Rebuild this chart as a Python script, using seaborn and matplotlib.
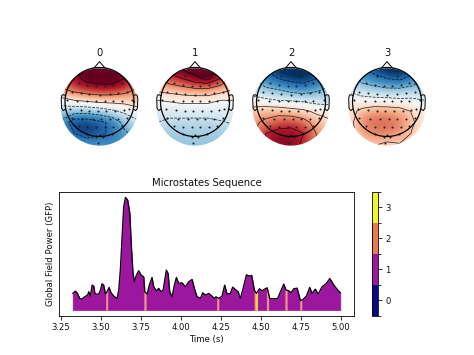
import numpy as np
import matplotlib
matplotlib.use("Agg")
import matplotlib.pyplot as plt
from matplotlib.colors import ListedColormap, BoundaryNorm
from matplotlib.cm import ScalarMappable
from matplotlib.patches import Circle
import seaborn as sns

time_s = [3.325,3.342,3.352,3.369,3.383,3.400,3.418,3.425,3.435,3.446,3.456,3.464,3.487,3.498,3.508,3.518,3.529,3.539,3.552,3.564,3.581,3.602,3.612,3.622,3.633,3.643,3.654,3.668,3.681,3.691,3.701,3.710,3.722,3.737,3.751,3.768,3.774,3.789,3.803,3.820,3.830,3.847,3.862,3.876,3.889,3.899,3.909,3.920,3.930,3.945,3.959,3.972,3.986,4.007,4.028,4.049,4.070,4.084,4.101,4.122,4.136,4.153,4.174,4.194,4.209,4.219,4.236,4.257,4.273,4.288,4.309,4.323,4.340,4.357,4.371,4.388,4.409,4.427,4.442,4.458,4.471,4.490,4.506,4.523,4.538,4.554,4.579,4.604,4.621,4.642,4.656,4.673,4.687,4.704,4.725,4.746,4.762,4.783,4.804,4.818,4.839,4.856,4.881,4.908,4.929,4.954,4.979,4.995]
gfp = [.50,.57,.52,.35,.33,.40,.45,.55,.42,.75,.72,.48,.48,.60,.79,.75,.48,.55,.68,.52,.42,.35,.60,1.20,2.20,3.10,3.38,3.30,2.90,1.90,1.10,.85,1.05,1.18,1.05,1.00,.55,.48,.75,.98,.70,.58,.65,.55,.60,.90,1.20,1.10,.55,.40,.75,.98,.80,.82,.70,.85,.92,.65,.40,.35,.52,.45,.50,.42,.35,.40,.35,.42,.75,.48,.50,.69,.62,.55,.35,.65,1.06,1.02,1.04,.60,.50,.64,.58,.63,.67,.35,.34,.35,.55,.78,.60,.58,.52,.64,.66,.28,.32,.42,.68,.50,.63,.48,.70,.80,.95,.75,.60,.52]
stripe_start = [3.532,3.771,4.225,4.459,4.468,4.535,4.651,4.743]
stripe_end = [3.542,3.781,4.235,4.468,4.477,4.546,4.661,4.753]
stripe_state = [2,2,2,2,3,2,2,2]

state_labels = [0,1,2,3]
cluster_names = ["0","1","2","3"]
topo_x = [-1.1,-.73,-.37,0,.37,.73,1.1]
topo_y = [1.0,.68,.36,.05,-.27,-.59,-.91,-1.23]
map_0 = [[.6,.8,.95,.95,.9,.7,.5],[.55,.75,.95,1.0,1.0,.85,.55],[.4,.55,.65,.7,.7,.6,.4],[.0,.1,.15,.2,.2,.2,.25],
         [-.3,-.35,-.35,-.3,-.2,-.1,.0],[-.5,-.85,-.85,-.75,-.65,-.35,-.2],[-.5,-.7,-.85,-.75,-.65,-.5,-.35],[-.35,-.45,-.5,-.5,-.55,-.5,-.3]]
map_1 = [[.7,.85,.95,1.0,1.0,.85,.5],[.45,.6,.7,.85,.95,.7,.4],[.25,.3,.35,.4,.4,.3,.2],[.0,.02,.05,.05,.05,.0,.0],
         [-.1,-.12,-.12,-.12,-.12,-.1,-.1],[-.2,-.25,-.25,-.25,-.25,-.22,-.18],[-.3,-.3,-.3,-.3,-.3,-.3,-.3],[-.35,-.35,-.35,-.35,-.35,-.35,-.35]]
map_2 = [[-.6,-.8,-.95,-1.0,-.95,-.8,-.6],[-.4,-.6,-.75,-.85,-.9,-.75,-.5],[-.25,-.35,-.4,-.5,-.55,-.45,-.35],[.0,-.05,-.1,-.12,-.15,-.2,-.2],
         [.25,.3,.3,.25,.2,.1,.05],[.35,.45,.55,.6,.5,.3,.2],[.4,.7,.8,.8,.7,.4,.25],[.4,.7,.8,.8,.65,.4,.3]]
map_3 = [[-.5,-.7,-.85,-.95,-1.0,-.85,-.5],[-.3,-.5,-.6,-.7,-.75,-.6,-.4],[-.15,-.25,-.3,-.35,-.35,-.3,-.3],[.05,.0,-.02,-.02,-.05,-.05,-.1],
         [.1,.3,.4,.38,.35,.2,.02],[.1,.45,.5,.5,.45,.25,.1],[.1,.35,.45,.45,.4,.2,.1],[.05,.2,.25,.15,.2,.15,.1]]
maps = [map_0, map_1, map_2, map_3]
map_levels = [[-.7,-.45,-.15,.1,.45,.85],[-.2,.0,.2,.45,.7,.9],[-.75,-.4,-.1,.15,.4,.7],[-.7,-.4,-.1,.22]]
sensor_x = [-.3,.3,-.6,-.35,-.1,.15,.4,.65,-.8,-.55,-.3,0,.3,.55,.8,-.95,-.65,-.35,-.1,.15,.4,.65,.95,-.85,-.55,-.3,-.05,.2,.45,.7,.85,-.8,-.5,-.2,.05,.3,.55,.8,-.6,-.35,-.1,.15,.4,.65,-.35,0,.35,-.1,.1,-.05]
sensor_y = [.75,.75,.55,.5,.45,.45,.5,.55,.28,.25,.22,.2,.22,.25,.28,.05,.03,.02,.02,.02,.03,.03,.05,-.2,-.22,-.25,-.25,-.25,-.25,-.22,-.2,-.45,-.48,-.5,-.5,-.5,-.48,-.45,-.7,-.72,-.72,-.72,-.72,-.7,-.92,-.95,-.92,-1.02,-1.02,-1.2]

fig_w, fig_h = 474, 355
sns.set_style("ticks")
plt.rcParams["font.family"] = ["DejaVu Sans"]
plt.rcParams["text.color"] = "#111111"
plt.rcParams["axes.labelcolor"] = "#111111"
plt.rcParams["xtick.color"] = "#111111"
plt.rcParams["ytick.color"] = "#111111"
plt.rcParams["axes.edgecolor"] = "black"
fig = plt.figure(figsize=(fig_w/100, fig_h/100), dpi=100)

def px_axes(x0, y0, x1, y1):
    return fig.add_axes([x0/fig_w, 1-y1/fig_h, (x1-x0)/fig_w, (y1-y0)/fig_h])

centers = [99.5, 195, 291, 387]
R = 34.5
for cx, grid, name, lv in zip(centers, maps, cluster_names, map_levels):
    ax = px_axes(cx-46, 102-44, cx+46, 102+48)
    ax.set_axis_off()
    clip = Circle((0,-.145), 1.12, transform=ax.transData, fc="none", ec="none")
    ax.add_patch(clip)
    g = np.array(grid)
    im = ax.imshow(g, cmap="RdBu_r", vmin=-.88, vmax=.88, interpolation="bicubic", aspect="auto",
                   extent=(-1.285,1.285,-1.39,1.16))
    im.set_clip_path(clip)
    cs = ax.contour(topo_x, topo_y, g, levels=sorted(set(lv)), colors="k", linewidths=.55, alpha=.8)
    cs.set_clip_path(clip)
    ax.set_xlim(-46/R, 46/R); ax.set_ylim(-48/R, 44/R)
    ax.scatter(sensor_x, sensor_y, s=2.2, c="#222222", lw=0, zorder=4)
    th = np.linspace(0, 2*np.pi, 200)
    ax.plot(np.cos(th), np.sin(th), color="k", lw=.9, zorder=5)
    ax.plot([-.16,0,.16],[.985,1.17,.985], color="k", lw=.7, zorder=5)
    for s in (-1,1):
        ax.plot([s*.98,s*1.04,s*1.09,s*1.11,s*1.1,s*1.05,s*.98],[.18,.21,.2,.1,-.18,-.25,-.2], color="k", lw=.7, zorder=5)
    ax.text(0, 1.42, name, ha="center", va="center", fontsize=7.2)

plasma = plt.get_cmap("plasma")
cmap = ListedColormap([plasma(0.0), plasma(1/3), plasma(2/3), plasma(1.0)])
ax = px_axes(59.3, 191.7, 353.7, 315.7)
sns.lineplot(x=time_s, y=gfp, color="k", lw=.85, errorbar=None, ax=ax, zorder=4)
ax.fill_between(time_s, gfp, 0, color=cmap(1), lw=.5, zorder=2)
for a, b, st in zip(stripe_start, stripe_end, stripe_state):
    xx = [a, b]
    ax.fill_between(xx, np.interp(xx, time_s, gfp), 0, color="#f29a86" if st == 2 else cmap(st), lw=.3, zorder=3)
ax.set_title("Microstates Sequence", fontsize=7.2, pad=4)
ax.set_xlabel("Time (s)", fontsize=6.1, labelpad=2)
ax.set_ylabel("Global Field Power (GFP)", fontsize=6.1, labelpad=3)
ax.set_yticks([])
ax.set_xticks([3.25,3.5,3.75,4.0,4.25,4.5,4.75,5.0])
ax.set_xticklabels(["3.25","3.50","3.75","4.00","4.25","4.50","4.75","5.00"])
ax.tick_params(axis="x", labelsize=6.1, length=2.6, width=.6, pad=2.6)
for sp in ax.spines.values():
    sp.set_visible(True); sp.set_linewidth(.6)

cax = px_axes(372, 191.7, 378.3, 316)
sm = ScalarMappable(norm=BoundaryNorm([-.5,.5,1.5,2.5,3.5], 4), cmap=cmap)
cb = fig.colorbar(sm, cax=cax, ticks=state_labels)
cb.ax.tick_params(labelsize=6.1, length=2.6, width=.6, pad=2.6)
cb.outline.set_linewidth(.6)
fig.savefig("out.png", dpi=100)
